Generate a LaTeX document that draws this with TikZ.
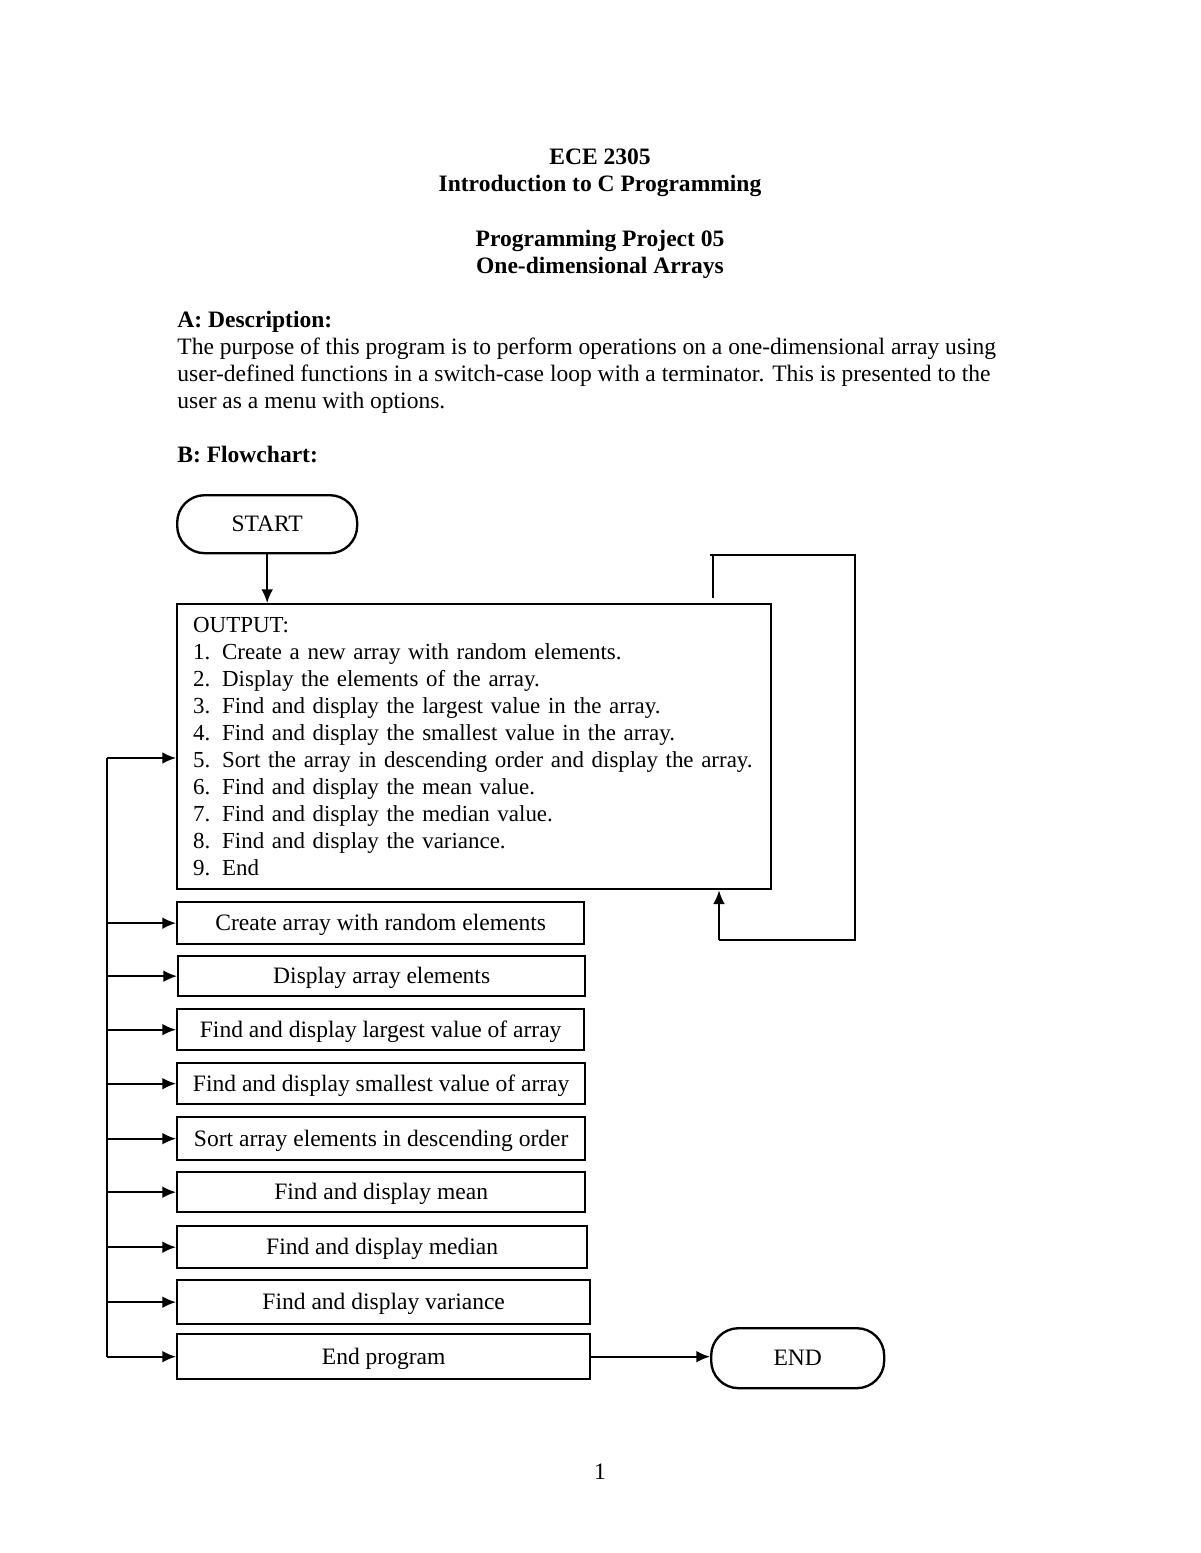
\documentclass[tikz,border=0pt]{standalone}
\usepackage{fontspec}
\setmainfont{Liberation Serif}
\usetikzlibrary{arrows.meta}
\newcommand\itm[1]{\makebox[14.8pt][l]{#1}}
\begin{document}
\begin{tikzpicture}[x=0.51pt,y=-0.51pt,
  every node/.style={font=\fontsize{12}{13.77}\selectfont},
  hdr/.style={font=\fontsize{12}{13.77}\selectfont\bfseries, anchor=base, inner sep=0pt},
  txt/.style={anchor=base west, inner sep=0pt},
  box/.style={draw, line width=1.2pt, anchor=north west, inner sep=0pt, text height=9pt, text depth=1.5pt},
  term/.style={draw, line width=1.2pt, rounded corners=14pt, anchor=north west, inner sep=0pt, text height=9pt, text depth=1.5pt},
  arr/.style={line width=0.9pt, -{Latex[length=7pt,width=6pt]}},
  lp/.style={line width=0.7pt}]
\useasboundingbox (0,0) rectangle (1200,1553);
% header
\node[hdr] (h1) at (600,165) {ECE 2305};
\node[hdr] (h2) at (600,192) {Introduction to C Programming};
\node[hdr] (h3) at (600,246) {Programming Project 05};
\node[hdr] (h4) at (600,273) {One-dimensional Arrays};
\node[txt, font=\fontsize{12}{13.77}\selectfont\bfseries] (sa) at (177,327) {A: Description:};
\node[txt] (d1) at (177,354) {The purpose of this program is to perform operations on a one-dimensional array using};
\node[txt] (d2) at (177,381) {user-defined functions in a switch-case loop with a terminator. This is presented to the};
\node[txt] (d3) at (177,408) {user as a menu with options.};
\node[txt, font=\fontsize{12}{13.77}\selectfont\bfseries] (sb) at (177,462) {B: Flowchart:};
% flowchart
\node[term, minimum width=180*0.51pt, minimum height=58*0.51pt] (start) at (176,494) {START};
\node[draw, line width=1.2pt, anchor=north west, minimum width=594*0.51pt, minimum height=285*0.51pt,
  inner xsep=16*0.51pt, inner ysep=0pt, text width=562*0.51pt, align=left,
  font=\fontsize{11.7}{13.77}\selectfont] (out) at (176,603) {\hyphenpenalty10000 %
OUTPUT:\\
\itm{1.}Create a new array with random elements.\\
\itm{2.}Display the elements of the array.\\
\itm{3.}Find and display the largest value in the array.\\
\itm{4.}Find and display the smallest value in the array.\\
\itm{5.}Sort the array in descending order and display the array.\\
\itm{6.}Find and display the mean value.\\
\itm{7.}Find and display the median value.\\
\itm{8.}Find and display the variance.\\
\itm{9.}End};
\node[box, minimum width=407*0.51pt, minimum height=42*0.51pt] (b1) at (176,901) {Create array with random elements};
\node[box, minimum width=407*0.51pt, minimum height=40*0.51pt] (b2) at (177,955) {Display array elements};
\node[box, minimum width=407*0.51pt, minimum height=41*0.51pt] (b3) at (176,1008) {Find and display largest value of array};
\node[box, minimum width=408*0.51pt, minimum height=41*0.51pt] (b4) at (176,1062) {Find and display smallest value of array};
\node[box, minimum width=408*0.51pt, minimum height=43*0.51pt] (b5) at (176,1116) {Sort array elements in descending order};
\node[box, minimum width=408*0.51pt, minimum height=40*0.51pt] (b6) at (176,1171) {Find and display mean};
\node[box, minimum width=410*0.51pt, minimum height=42*0.51pt] (b7) at (176,1225) {Find and display median};
\node[box, minimum width=413*0.51pt, minimum height=44*0.51pt] (b8) at (176,1279) {Find and display variance};
\node[box, minimum width=413*0.51pt, minimum height=45*0.51pt] (b9) at (176,1333) {End program};
\node[term, minimum width=173*0.51pt, minimum height=60*0.51pt] (end) at (710,1327) {END};
% connectors
\draw[arr] (start.south) -- (start.south |- out.north);
\coordinate (bus) at (107,758);
\coordinate (j0) at (107,758);
\draw[line width=0.9pt] (j0) -- (b9.west -| bus);
\draw[arr] (j0) -- (j0 -| out.west);
\foreach \b in {b1,b2,b3,b4,b5,b6,b7,b8,b9}
  \draw[arr] (\b.west -| bus) -- (\b.west);
\draw[arr] (b9.east) -- (b9.east -| end.west);
% loop back
\coordinate (l1) at (713,598);
\coordinate (l2) at (713,555);
\coordinate (l3) at (855,555);
\coordinate (l4) at (855,940);
\coordinate (l5) at (719,940);
\draw[lp] (l1) -- (l2);
\draw[lp] (710,555) -- (l3) -- (l4) -- (l5);
\draw[arr] (l5) -- (l5 |- out.south);
% page number
\node[txt, anchor=base] (pg) at (600,1479) {1};
\end{tikzpicture}
\end{document}
